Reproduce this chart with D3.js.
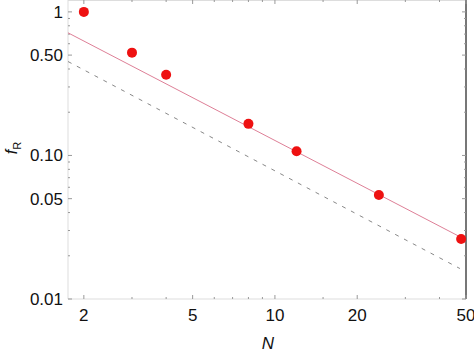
<!DOCTYPE html>
<html lang="en">
<head>
<meta charset="UTF-8">
<title>fR vs N</title>
<script src="https://d3js.org/d3.v7.min.js"></script>
<style>
  body { margin: 0; background: #fff; }
  text { font-family: "Liberation Sans", Arial, sans-serif; fill: #111; }
</style>
</head>
<body>
<script>
// data
const nValues = [2, 3, 4, 8, 12, 24, 48];
const fValues = [1.0, 0.52, 0.365, 0.166, 0.107, 0.053, 0.0262];

// straight guide lines (end points)
const fitN = [1.75, 50];
const fitF = [0.715, 0.0258];
const refN = [1.75, 47.5];
const refF = [0.451, 0.0163];

const xTicks = [2, 5, 10, 20, 50];
const xMinor = [3, 4, 6, 7, 8, 9, 15, 30, 40];
const yTicks = [1, 0.5, 0.1, 0.05, 0.01];
const yTickLabels = ["1", "0.50", "0.10", "0.05", "0.01"];
const yMinor = [0.9, 0.8, 0.7, 0.6, 0.4, 0.3, 0.2, 0.09, 0.08, 0.07, 0.06, 0.04, 0.03, 0.02];

const width = 474, height = 353;
const pLeft = 68, pRight = 466, pTop = 0, pBottom = 299;

const x = d3.scaleLog().domain([1.75, 50]).range([pLeft, pRight]);
const y = d3.scaleLog().domain([0.01, 1.21]).range([pBottom, pTop]);

const svg = d3.select("body").append("svg")
    .attr("width", width)
    .attr("height", height);

// frame
svg.append("line").attr("x1", pLeft).attr("x2", pLeft).attr("y1", pTop).attr("y2", pBottom)
    .attr("stroke", "#ddd");
svg.append("line").attr("x1", pLeft).attr("x2", pRight).attr("y1", pBottom).attr("y2", pBottom)
    .attr("stroke", "#ddd");
svg.append("line").attr("x1", pLeft).attr("x2", pRight).attr("y1", pTop + 0.5).attr("y2", pTop + 0.5)
    .attr("stroke", "#ddd");
svg.append("line").attr("x1", pRight).attr("x2", pRight).attr("y1", pTop).attr("y2", pBottom)
    .attr("stroke", "#777").attr("stroke-width", 2);

// ticks (inside, on all four sides)
const tickCol = "#999";
function xTick(v, len) {
    svg.append("line").attr("x1", x(v)).attr("x2", x(v))
        .attr("y1", pBottom).attr("y2", pBottom - len).attr("stroke", tickCol);
    svg.append("line").attr("x1", x(v)).attr("x2", x(v))
        .attr("y1", pTop).attr("y2", pTop + len).attr("stroke", tickCol);
}
function yTick(v, len) {
    svg.append("line").attr("x1", pLeft).attr("x2", pLeft + len)
        .attr("y1", y(v)).attr("y2", y(v)).attr("stroke", tickCol);
    svg.append("line").attr("x1", pRight - len).attr("x2", pRight)
        .attr("y1", y(v)).attr("y2", y(v)).attr("stroke", tickCol);
}
xTicks.forEach(v => xTick(v, 4));
xMinor.forEach(v => xTick(v, 2));
yTicks.forEach(v => yTick(v, 4));
yMinor.forEach(v => yTick(v, 2));

// tick labels
svg.selectAll(".xl").data(xTicks).enter().append("text")
    .attr("x", d => x(d)).attr("y", 321)
    .attr("text-anchor", "middle").attr("font-size", 17)
    .text(d => d);
svg.selectAll(".yl").data(yTicks).enter().append("text")
    .attr("x", 63).attr("y", d => y(d) + 6)
    .attr("text-anchor", "end").attr("font-size", 17)
    .text((d, i) => yTickLabels[i]);

// axis titles
svg.append("text").attr("x", 268).attr("y", 349)
    .attr("text-anchor", "middle").attr("font-size", 17).attr("font-style", "italic")
    .text("N");
const yt = svg.append("text")
    .attr("transform", "translate(17,148) rotate(-90)")
    .attr("text-anchor", "middle").attr("font-size", 16);
yt.append("tspan").attr("font-style", "italic").text("f");
yt.append("tspan").attr("font-size", 11).attr("dy", 4).text("R");

// guide lines
const line = d3.line().x(d => x(d[0])).y(d => y(d[1]));
svg.append("path").datum(refN.map((n, i) => [n, refF[i]]))
    .attr("d", line).attr("fill", "none")
    .attr("stroke", "#888").attr("stroke-width", 1).attr("stroke-dasharray", "4,6");
svg.append("path").datum(fitN.map((n, i) => [n, fitF[i]]))
    .attr("d", line).attr("fill", "none")
    .attr("stroke", "#de7f97").attr("stroke-width", 1);

// points
svg.selectAll("circle").data(nValues).enter().append("circle")
    .attr("cx", d => x(d))
    .attr("cy", (d, i) => y(fValues[i]))
    .attr("r", 5)
    .attr("fill", "#ee1111");
</script>
</body>
</html>
